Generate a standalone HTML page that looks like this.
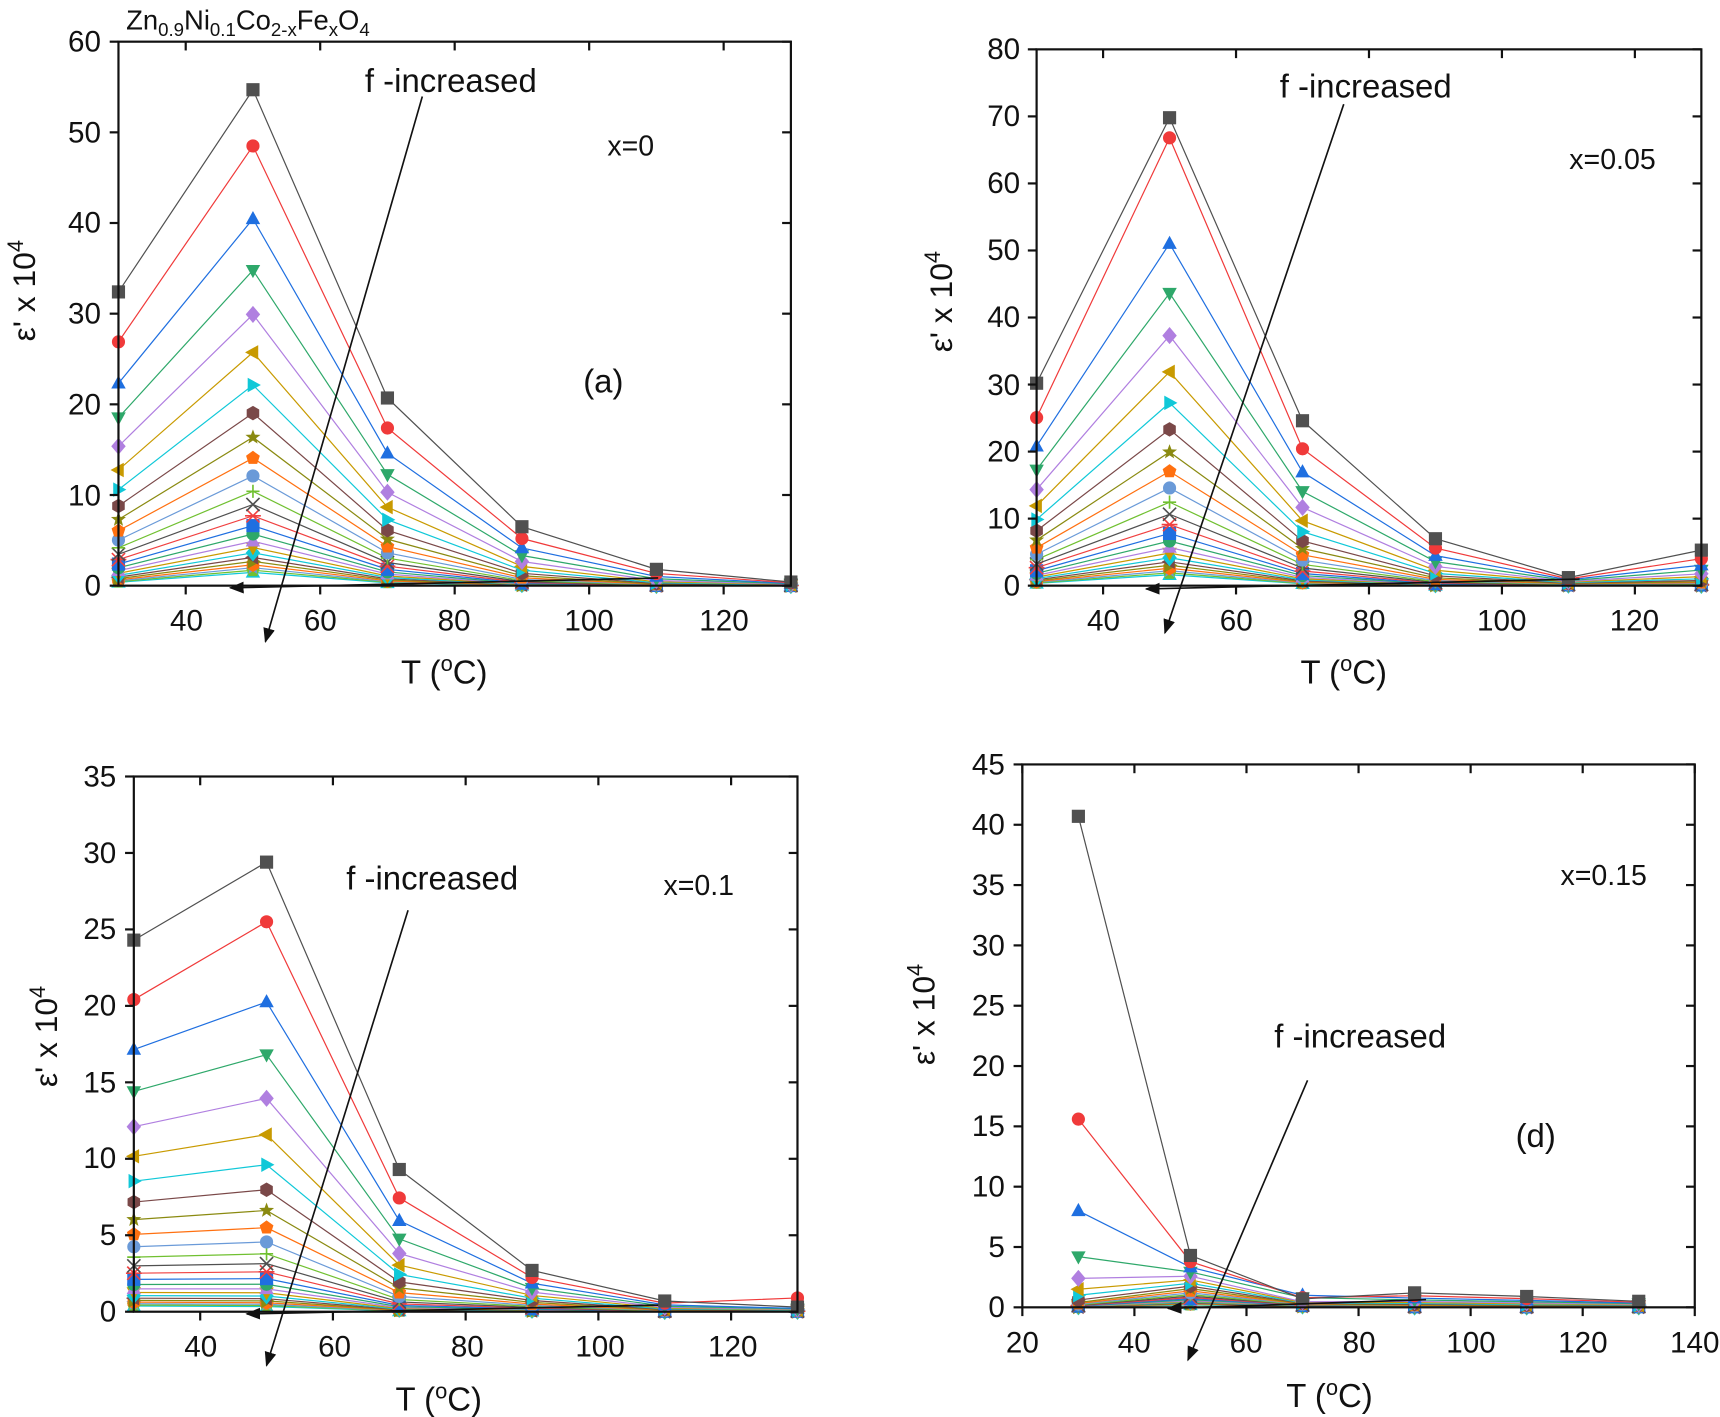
<!DOCTYPE html>
<html><head><meta charset="utf-8"><style>html,body{margin:0;padding:0;background:#fff}svg{display:block}text{font-family:"Liberation Sans",sans-serif;fill:#111}</style></head>
<body>
<svg id="s" width="1720" height="1417" viewBox="0 0 1568 1292" preserveAspectRatio="none" xmlns="http://www.w3.org/2000/svg">
<defs><marker id="ah" viewBox="0 0 10 10" refX="9" refY="5" markerWidth="9" markerHeight="9" orient="auto"><path d="M0,1 L10,5 L0,9 Z" fill="#111"/></marker></defs>
<g id="series"></g>
<g stroke="#111" fill="none" stroke-width="2">
<rect x="108" y="38" width="613" height="496"/>
<rect x="945" y="45" width="606" height="489"/>
<rect x="122" y="708" width="605" height="488"/>
<rect x="932" y="697" width="613" height="495"/>
</g>
<g id="ticks" stroke="#111" stroke-width="2"></g>
<g stroke="#111" stroke-width="1.5" fill="none">
<line x1="385" y1="88" x2="242" y2="585" marker-end="url(#ah)"/>
<line x1="600" y1="527" x2="210" y2="536" marker-end="url(#ah)"/>
<line x1="1225" y1="95" x2="1062" y2="577" marker-end="url(#ah)"/>
<line x1="1440" y1="528" x2="1045" y2="537" marker-end="url(#ah)"/>
<line x1="372" y1="830" x2="243" y2="1245" marker-end="url(#ah)"/>
<line x1="600" y1="1190" x2="225" y2="1198" marker-end="url(#ah)"/>
<line x1="1192" y1="985" x2="1083" y2="1240" marker-end="url(#ah)"/>
<line x1="1300" y1="1185" x2="1065" y2="1193" marker-end="url(#ah)"/>
</g>
<g font-size="30" text-anchor="middle">
<text x="411" y="84">f -increased</text>
<text x="1245" y="89">f -increased</text>
<text x="394" y="811">f -increased</text>
<text x="1240" y="955">f -increased</text>
<text x="575" y="142" font-size="26">x=0</text>
<text x="1470" y="154" font-size="26">x=0.05</text>
<text x="637" y="816" font-size="26">x=0.1</text>
<text x="1462" y="807" font-size="26">x=0.15</text>
<text x="550" y="358">(a)</text>
<text x="1400" y="1046">(d)</text>
<text x="405" y="623">T (<tspan font-size="20" dy="-11">o</tspan><tspan dy="11">C)</tspan></text>
<text x="1225" y="623">T (<tspan font-size="20" dy="-11">o</tspan><tspan dy="11">C)</tspan></text>
<text x="400" y="1286">T (<tspan font-size="20" dy="-11">o</tspan><tspan dy="11">C)</tspan></text>
<text x="1212" y="1283">T (<tspan font-size="20" dy="-11">o</tspan><tspan dy="11">C)</tspan></text>
<text transform="translate(32,265) rotate(-90)" font-size="29">ε' x 10<tspan font-size="20" dy="-11">4</tspan></text>
<text transform="translate(868,275) rotate(-90)" font-size="29">ε' x 10<tspan font-size="20" dy="-11">4</tspan></text>
<text transform="translate(52,945) rotate(-90)" font-size="29">ε' x 10<tspan font-size="20" dy="-11">4</tspan></text>
<text transform="translate(852,925) rotate(-90)" font-size="29">ε' x 10<tspan font-size="20" dy="-11">4</tspan></text>
</g>
<text x="115" y="27" font-size="25">Zn<tspan font-size="17" dy="6">0.9</tspan><tspan dy="-6">Ni</tspan><tspan font-size="17" dy="6">0.1</tspan><tspan dy="-6">Co</tspan><tspan font-size="17" dy="6">2-x</tspan><tspan dy="-6">Fe</tspan><tspan font-size="17" dy="6">x</tspan><tspan dy="-6">O</tspan><tspan font-size="17" dy="6">4</tspan></text>
<g font-size="27">
<text x="92" y="47" text-anchor="end">60</text><text x="92" y="130" text-anchor="end">50</text><text x="92" y="212" text-anchor="end">40</text><text x="92" y="295" text-anchor="end">30</text><text x="92" y="378" text-anchor="end">20</text><text x="92" y="461" text-anchor="end">10</text><text x="92" y="543" text-anchor="end">0</text>
<text x="170" y="575" text-anchor="middle">40</text><text x="292" y="575" text-anchor="middle">60</text><text x="414" y="575" text-anchor="middle">80</text><text x="537" y="575" text-anchor="middle">100</text><text x="660" y="575" text-anchor="middle">120</text>
<text x="930" y="54" text-anchor="end">80</text><text x="930" y="115" text-anchor="end">70</text><text x="930" y="176" text-anchor="end">60</text><text x="930" y="237" text-anchor="end">50</text><text x="930" y="298" text-anchor="end">40</text><text x="930" y="360" text-anchor="end">30</text><text x="930" y="421" text-anchor="end">20</text><text x="930" y="482" text-anchor="end">10</text><text x="930" y="543" text-anchor="end">0</text>
<text x="1006" y="575" text-anchor="middle">40</text><text x="1127" y="575" text-anchor="middle">60</text><text x="1248" y="575" text-anchor="middle">80</text><text x="1369" y="575" text-anchor="middle">100</text><text x="1490" y="575" text-anchor="middle">120</text>
<text x="106" y="717" text-anchor="end">35</text><text x="106" y="787" text-anchor="end">30</text><text x="106" y="856" text-anchor="end">25</text><text x="106" y="926" text-anchor="end">20</text><text x="106" y="996" text-anchor="end">15</text><text x="106" y="1065" text-anchor="end">10</text><text x="106" y="1135" text-anchor="end">5</text><text x="106" y="1205" text-anchor="end">0</text>
<text x="183" y="1237" text-anchor="middle">40</text><text x="305" y="1237" text-anchor="middle">60</text><text x="426" y="1237" text-anchor="middle">80</text><text x="547" y="1237" text-anchor="middle">100</text><text x="668" y="1237" text-anchor="middle">120</text>
<text x="916" y="706" text-anchor="end">45</text><text x="916" y="761" text-anchor="end">40</text><text x="916" y="816" text-anchor="end">35</text><text x="916" y="871" text-anchor="end">30</text><text x="916" y="926" text-anchor="end">25</text><text x="916" y="981" text-anchor="end">20</text><text x="916" y="1036" text-anchor="end">15</text><text x="916" y="1091" text-anchor="end">10</text><text x="916" y="1146" text-anchor="end">5</text><text x="916" y="1201" text-anchor="end">0</text>
<text x="932" y="1233" text-anchor="middle">20</text><text x="1034" y="1233" text-anchor="middle">40</text><text x="1136" y="1233" text-anchor="middle">60</text><text x="1239" y="1233" text-anchor="middle">80</text><text x="1341" y="1233" text-anchor="middle">100</text><text x="1443" y="1233" text-anchor="middle">120</text><text x="1545" y="1233" text-anchor="middle">140</text>
</g>
</svg>
<script>
(function(){
var NS="http://www.w3.org/2000/svg";
var S=document.getElementById("series"),TK=document.getElementById("ticks");
function el(t,a,p){var e=document.createElementNS(NS,t);for(var k in a)e.setAttribute(k,a[k]);(p||S).appendChild(e);return e;}
var cols=["#505050","#f03a3a","#1f6fe0","#2ea86a","#b07fe0","#c89a00","#10c8d8","#7a4848","#8a8a10","#ff7010","#6a9ad8","#70c030","#505050","#f04040","#1f6fe0","#2ea86a","#b07fe0","#c89a00","#10c8d8","#7a4848","#8a8a10","#ff7010","#6a9ad8","#70c030","#10c8d8"];
var mk=["sq","ci","tu","td","di","tl","tr","hx","st","pe","ci","pl","x","as","sq","ci","tu","td","di","tl","tr","hx","st","pe","tu"];
function marker(x,y,t,c,r){
 switch(t){
 case"sq":el("rect",{x:x-r,y:y-r,width:2*r,height:2*r,fill:c});break;
 case"ci":el("circle",{cx:x,cy:y,r:r,fill:c});break;
 case"tu":el("path",{d:"M"+x+","+(y-r*1.2)+"L"+(x+r*1.1)+","+(y+r*0.8)+"L"+(x-r*1.1)+","+(y+r*0.8)+"Z",fill:c});break;
 case"td":el("path",{d:"M"+x+","+(y+r*1.2)+"L"+(x+r*1.1)+","+(y-r*0.8)+"L"+(x-r*1.1)+","+(y-r*0.8)+"Z",fill:c});break;
 case"tl":el("path",{d:"M"+(x-r*1.2)+","+y+"L"+(x+r*0.8)+","+(y-r*1.1)+"L"+(x+r*0.8)+","+(y+r*1.1)+"Z",fill:c});break;
 case"tr":el("path",{d:"M"+(x+r*1.2)+","+y+"L"+(x-r*0.8)+","+(y-r*1.1)+"L"+(x-r*0.8)+","+(y+r*1.1)+"Z",fill:c});break;
 case"di":el("path",{d:"M"+x+","+(y-r*1.3)+"L"+(x+r*1.1)+","+y+"L"+x+","+(y+r*1.3)+"L"+(x-r*1.1)+","+y+"Z",fill:c});break;
 case"hx":case"pe":case"st":
  var n=t=="hx"?6:5,d="";
  for(var i=0;i<(t=="st"?10:n);i++){var a,rr;if(t=="st"){a=-Math.PI/2+i*Math.PI/5;rr=i%2?r*0.5:r*1.2;}else{a=-Math.PI/2+i*2*Math.PI/n;rr=r*1.1;}d+=(i?"L":"M")+(x+rr*Math.cos(a))+","+(y+rr*Math.sin(a));}
  el("path",{d:d+"Z",fill:c});break;
 case"pl":el("path",{d:"M"+(x-r)+","+y+"H"+(x+r)+"M"+x+","+(y-r)+"V"+(y+r),stroke:c,"stroke-width":1.5});break;
 case"x":el("path",{d:"M"+(x-r)+","+(y-r)+"L"+(x+r)+","+(y+r)+"M"+(x+r)+","+(y-r)+"L"+(x-r)+","+(y+r),stroke:c,"stroke-width":1.5});break;
 case"as":el("path",{d:"M"+(x-r)+","+(y-r)+"L"+(x+r)+","+(y+r)+"M"+(x+r)+","+(y-r)+"L"+(x-r)+","+(y+r)+"M"+(x-r*1.2)+","+y+"H"+(x+r*1.2),stroke:c,"stroke-width":1.5});break;
 }
}
var T=[30,50,70,90,110,130];
var panels=[
 {x0:30,x1:130,X0:108,X1:721,ymax:60,Y0:534,Y1:38,A:[32.4,54.7,20.7,6.5,1.8,0.4],R:[0.83,0.86,0.84,0.8,0.75,0.8]},
 {x0:30,x1:130,X0:945,X1:1551,ymax:80,Y0:534,Y1:45,A:[30.2,69.8,24.6,7,1.2,5.3],R:[0.83,0.855,0.83,0.8,0.85,0.76]},
 {x0:30,x1:130,X0:122,X1:727,ymax:35,Y0:1196,Y1:708,A:[24.3,29.4,9.3,2.7,0.7,0.3],R:[0.84,0.83,0.8,0.83,0.8,0.85]},
 {x0:20,x1:140,X0:932,X1:1545,ymax:45,Y0:1192,Y1:697,A:[40.7,4.3,0.7,1.2,0.9,0.5],R:[0.5,0.88,0.9,0.8,0.8,0.85]}
];
panels.forEach(function(P,pi){
 var N=25;
 for(var i=N-1;i>=0;i--){
  var pts=[];
  for(var j=0;j<6;j++){
   var v=P.A[j]*Math.pow(P.R[j],i);
   if(pi==1&&j==1&&i==1)v=66.8;
   if(pi==0&&j==1&&i==1)v=48.5;
   if(pi==2&&j==1&&i==1)v=25.5;
   if(pi==3&&j==0&&i>=1){v=[40.7,15.6,8,4.2,2.4,1.5,1,0.6][i]||0.5*Math.pow(0.8,i-7);}
   if(pi==3&&j==2&&i<4){v=[0.7,0.8,1.0,0.8][i];}
   if(pi==2&&j==5&&i==1)v=0.9;
   var X=P.X0+(T[j]-P.x0)/(P.x1-P.x0)*(P.X1-P.X0);
   var Y=P.Y0-v/P.ymax*(P.Y0-P.Y1);
   pts.push([X,Y]);
  }
  el("polyline",{points:pts.map(function(p){return p.join(",")}).join(" "),fill:"none",stroke:cols[i],"stroke-width":1.1});
  pts.forEach(function(p){marker(p[0],p[1],mk[i],cols[i],6);});
 }
 for(var t=P.x0==20?20:40;t<=P.x1;t+=20){var X=P.X0+(t-P.x0)/(P.x1-P.x0)*(P.X1-P.X0);
  el("line",{x1:X,y1:P.Y0,x2:X,y2:P.Y0+8},TK);el("line",{x1:X,y1:P.Y1,x2:X,y2:P.Y1+8},TK);}
 var ys=P.ymax==35||P.ymax==45?5:10;
 for(var v=0;v<=P.ymax;v+=ys){var Y=P.Y0-v/P.ymax*(P.Y0-P.Y1);
  el("line",{x1:P.X0,y1:Y,x2:P.X0-8,y2:Y},TK);el("line",{x1:P.X1,y1:Y,x2:P.X1-8,y2:Y},TK);}
});
})();
</script>
</body></html>
